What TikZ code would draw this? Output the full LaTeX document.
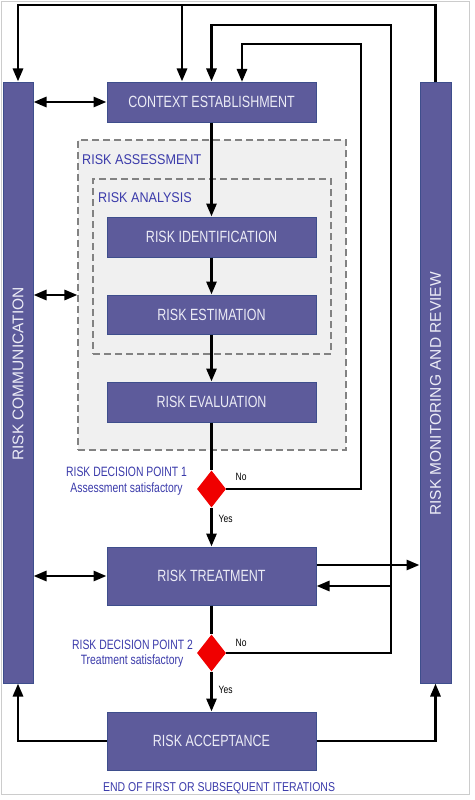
\documentclass[tikz,border=0pt]{standalone}
\usepackage{fontspec}
\setmainfont{Liberation Sans}
\usetikzlibrary{arrows.meta,shapes.geometric,calc}
\definecolor{boxfill}{RGB}{93,91,155}
\definecolor{boxline}{RGB}{62,78,140}
\definecolor{lbl}{RGB}{58,58,170}
\definecolor{txt}{RGB}{236,236,246}
\definecolor{assessfill}{RGB}{240,240,240}
\newcommand{\vst}[2][1.3]{\scalebox{1}[#1]{#2}}
\begin{document}
\begin{tikzpicture}[x=1pt,y=-1pt,
  box/.style={draw=boxline, line width=1pt, fill=boxfill, text=txt, minimum width=209pt, inner sep=0pt, font=\fontsize{12.5}{14}\selectfont},
  bar/.style={draw=boxline, line width=1pt, fill=boxfill, inner sep=0pt, minimum width=30pt, minimum height=601pt},
  bartext/.style={rotate=90, text=txt, inner sep=0pt, font=\fontsize{15.5}{17}\selectfont},
  arr/.style={line width=2.8pt, -{Triangle[length=13pt,width=10pt]}},
  darr/.style={line width=2.8pt, {Triangle[length=13pt,width=10pt]}-{Triangle[length=13pt,width=10pt]}},
  ln/.style={line width=2.8pt},
  dec/.style={diamond, fill={rgb,255:red,240;green,0;blue,0}, minimum width=29pt, minimum height=37pt, inner sep=0pt},
  dashbox/.style={draw={rgb,255:red,130;green,130;blue,130}, line width=1.1pt, dash pattern=on 7pt off 4pt, fill=assessfill, inner sep=0pt},
  bluelbl/.style={text=lbl, inner sep=0pt},
  yn/.style={inner sep=0pt, anchor=west, font=\fontsize{8.5}{10}\selectfont}
]
\useasboundingbox (0,0) rectangle (474,800);
\draw[gray!40, line width=1pt] (1.5,2) rectangle (469.5,794);

% dashed groups
\node[dashbox, minimum width=268pt, minimum height=310pt] (assess) at (212,295) {};
\node[dashbox, minimum width=238pt, minimum height=175pt] (analysis) at (212,266.5) {};
\node[bluelbl, anchor=west, font=\fontsize{12.6}{14}\selectfont] (assesslbl) at (82,160) {\vst[1.12]{RISK ASSESSMENT}};
\node[bluelbl, anchor=west, font=\fontsize{12.6}{14}\selectfont] (analysislbl) at (98,197.5) {\vst[1.12]{RISK ANALYSIS}};

% side bars
\node[bar] (comm) at (18,382.5) {};
\node[bar, minimum width=31pt] (mon) at (435.5,382.5) {};
\node[bartext] (commtxt) at (18,374) {RISK COMMUNICATION};
\node[bartext] (montxt) at (435.5,394) {RISK MONITORING AND REVIEW};

% process boxes
\node[box, minimum height=40pt] (ctx) at (211.5,102) {\vst{CONTEXT ESTABLISHMENT}};
\node[box, minimum height=40pt] (ident) at (211.5,237) {\vst{RISK IDENTIFICATION}};
\node[box, minimum height=39pt] (estim) at (211.5,314.5) {\vst{RISK ESTIMATION}};
\node[box, minimum height=40pt] (evalu) at (211.5,402) {\vst{RISK EVALUATION}};
\node[box, minimum height=58pt] (treat) at (211.5,576) {\vst{RISK TREATMENT}};
\node[box, minimum height=58pt] (accept) at (211.5,741) {\vst{RISK ACCEPTANCE}};

% decisions
\node[dec] (d1) at (211.5,489) {};
\node[dec] (d2) at (211.5,653) {};

\node[bluelbl, font=\fontsize{10.4}{12}\selectfont] (dp1a) at (126.5,472) {\vst{RISK DECISION POINT 1}};
\node[bluelbl, font=\fontsize{10.4}{12}\selectfont] (dp1b) at (126.5,488.5) {\vst{Assessment satisfactory}};
\node[bluelbl, font=\fontsize{10.4}{12}\selectfont] (dp2a) at (132.5,645) {\vst{RISK DECISION POINT 2}};
\node[bluelbl, font=\fontsize{10.4}{12}\selectfont] (dp2b) at (132,661) {\vst{Treatment satisfactory}};

\node[yn] (no1) at (235.5,477) {\vst[1.25]{No}};
\node[yn] (yes1) at (218.5,519) {\vst[1.25]{Yes}};
\node[yn] (no2) at (235.5,643) {\vst[1.25]{No}};
\node[yn] (yes2) at (218.5,690) {\vst[1.25]{Yes}};

\node[bluelbl, font=\fontsize{10.5}{12}\selectfont] (endlbl) at (219,788.5) {\vst[1.22]{END OF FIRST OR SUBSEQUENT ITERATIONS}};

% coordinates for bends
\coordinate (top) at (0,5);
\coordinate (j0) at (182,5);
\coordinate (r2) at (391,25);
\coordinate (r1) at (361,44);
\coordinate (b2) at (391,586);
\coordinate (c1) at (242,82);

% main flow
\draw[arr] (ctx.south) -- (ident.north);
\draw[arr] (ident.south) -- (estim.north);
\draw[arr] (estim.south) -- (evalu.north);
\draw[ln] (evalu.south) -- (d1.north);
\draw[arr] (d1.south) -- (treat.north);
\draw[ln] (treat.south) -- (d2.north);
\draw[arr] (d2.south) -- (accept.north);

% communication links
\draw[darr] (comm.east |- ctx.west) -- (ctx.west);
\draw[darr] (comm.east |- assess.west) -- (assess.west);
\draw[darr] (comm.east |- treat.west) -- (treat.west);

% monitoring links
\draw[arr] ($(treat.east)+(0,-11)$) -- ($(treat.east -| mon.west)+(0,-11)$);
\draw[arr] (mon.north) -- (mon.north |- top) -| (comm.north);
\draw[arr] (j0) -- (j0 |- ctx.north);

% feedback loops
\draw[arr] (d1.east) -| (r1) -| (c1);
\draw[arr] (d2.east) -| (r2) -| (ctx.north);
\draw[arr] (b2) -- (b2 -| treat.east);

% end of iteration
\draw[arr] (accept.west) -| (comm.south);
\draw[arr] (accept.east) -| (mon.south);
\end{tikzpicture}
\end{document}
